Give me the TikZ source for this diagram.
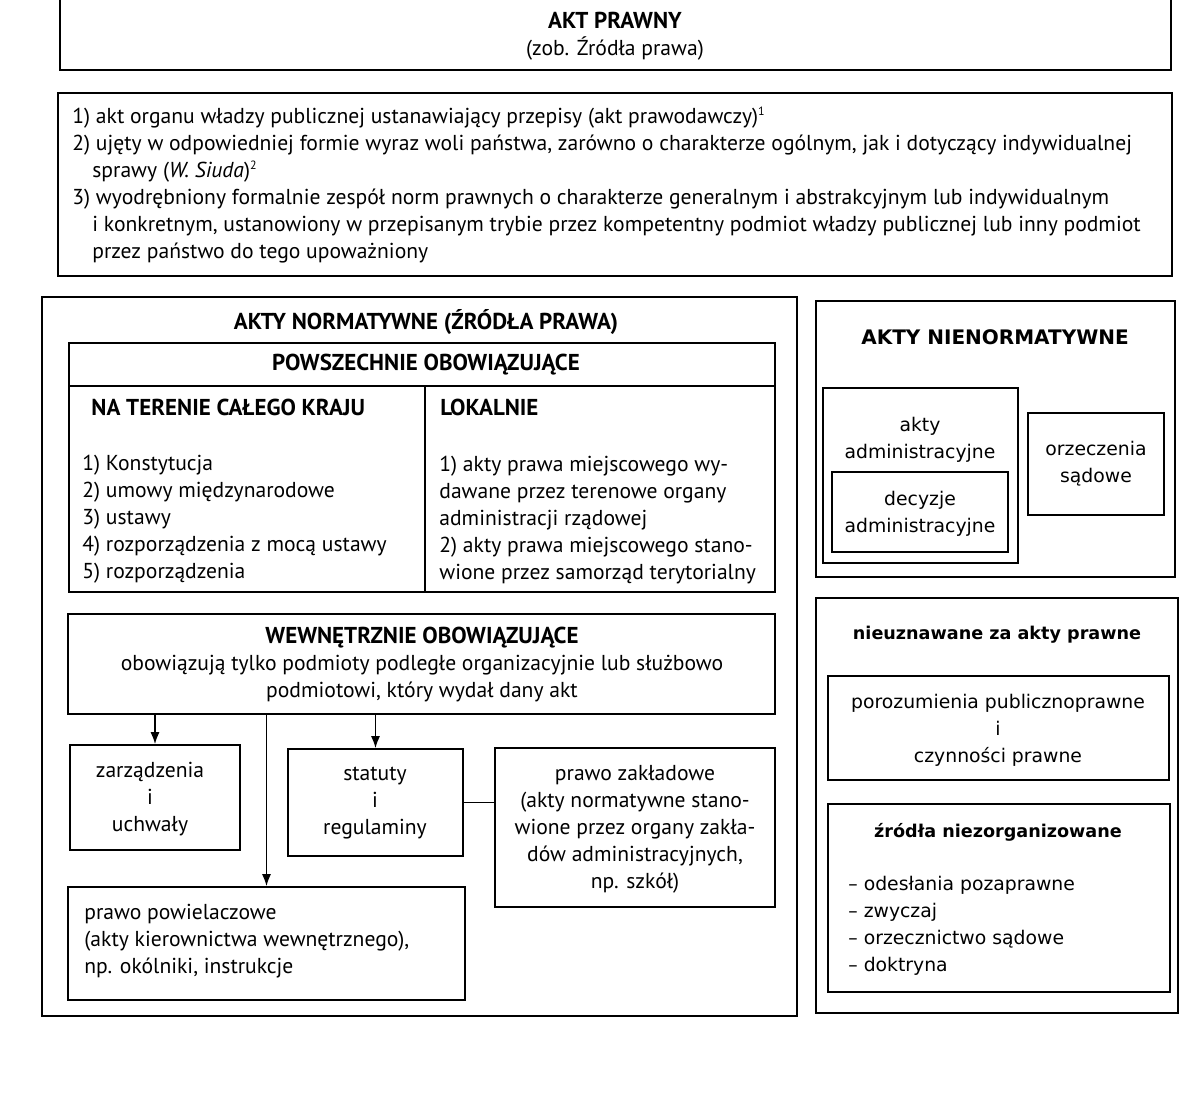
\documentclass[tikz,border=0pt]{standalone}
\usepackage{fontspec}
\setmainfont{PT Sans}
\newfontfamily\verd{DejaVu Sans}
\usetikzlibrary{arrows.meta,fit}

\newcommand{\hd}[1]{{\bfseries\fontsize{11.5}{13.5}\selectfont #1}}
\newcommand{\sups}[1]{\textsuperscript{\fontsize{6}{6}\selectfont #1}}

\tikzset{
  box/.style={draw, line width=0.8pt, inner sep=0pt},
  txt/.style={inner sep=0pt, align=center, font=\fontsize{10.8}{13.5}\selectfont},
  ltxt/.style={txt, align=left, anchor=north west},
  rtxt/.style={inner sep=0pt, align=center, font=\verd\fontsize{9.4}{13.5}\selectfont},
  arr/.style={-{Latex[length=6pt,width=4.5pt]}, line width=0.8pt}
}

\begin{document}
\begin{tikzpicture}[x=0.5pt, y=-0.5pt]
    \useasboundingbox (0,0) rectangle (1200,1105);

    % akt prawny
    \node[box, fit={(60,-5) (1171,70)}] (akt) {};
    \node[txt] (akttxt) at (615,36) {\hd{AKT PRAWNY}\\(zob. Źródła prawa)};

    % definicje
    \node[box, fit={(58,93) (1172,276)}] (def) {};
    \node[ltxt] (deftxt) at (72,107) {1) akt organu władzy publicznej ustanawiający przepisy (akt prawodawczy)\sups{1}\\
        2) ujęty w odpowiedniej formie wyraz woli państwa, zarówno o charakterze ogólnym, jak i dotyczący indywidualnej\\
        \hspace*{10pt}sprawy (\textit{W. Siuda})\sups{2}\\
        3) wyodrębniony formalnie zespół norm prawnych o charakterze generalnym i abstrakcyjnym lub indywidualnym\\
        \hspace*{10pt}i konkretnym, ustanowiony w przepisanym trybie przez kompetentny podmiot władzy publicznej lub inny podmiot\\
        \hspace*{10pt}przez państwo do tego upoważniony};

    % akty normatywne
    \node[box, fit={(42,297) (797,1016)}] (norm) {};
    \node[txt] (normtxt) at (426,322) {\hd{AKTY NORMATYWNE (ŹRÓDŁA PRAWA)}};

    \node[box, fit={(69,343) (775,386)}] (powsz) {};
    \node[txt] (powsztxt) at (426,365) {\hd{POWSZECHNIE OBOWIĄZUJĄCE}};
    \node[box, fit={(69,386) (425,592)}] (kraj) {};
    \node[box, fit={(425,386) (775,592)}] (lokal) {};
    \node[ltxt] (krajtxt) at (91,399) {\hd{NA TERENIE CAŁEGO KRAJU}};
    \node[ltxt] (lokaltxt) at (440,399) {\hd{LOKALNIE}};
    \node[ltxt] (krajlist) at (82,455) {1) Konstytucja\\2) umowy międzynarodowe\\3) ustawy\\4) rozporządzenia z mocą ustawy\\5) rozporządzenia};
    \node[ltxt] (lokallist) at (439,456) {1) akty prawa miejscowego wy-\\dawane przez terenowe organy\\administracji rządowej\\2) akty prawa miejscowego stano-\\wione przez samorząd terytorialny};

    \node[box, fit={(68,614) (775,714)}] (wew) {};
    \node[txt] (wewtxt) at (422,664) {\hd{WEWNĘTRZNIE OBOWIĄZUJĄCE}\\obowiązują tylko podmioty podległe organizacyjnie lub służbowo\\podmiotowi, który wydał dany akt};

    \node[box, fit={(70,745) (240,850)}] (zarz) {};
    \node[txt] (zarztxt) at (150,799) {zarządzenia\\i\\uchwały};
    \node[box, fit={(288,749) (463,856)}] (stat) {};
    \node[txt] (stattxt) at (375,803) {statuty\\i\\regulaminy};
    \node[box, fit={(495,748) (775,907)}] (zakl) {};
    \node[txt] (zakltxt) at (635,829) {prawo zakładowe\\(akty normatywne stano-\\wione przez organy zakła-\\dów administracyjnych,\\np. szkół)};
    \node[box, fit={(68,887) (465,1000)}] (powiel) {};
    \node[ltxt] (powieltxt) at (84,904) {prawo powielaczowe\\(akty kierownictwa wewnętrznego),\\np. okólniki, instrukcje};

    \draw[arr] (zarz.north |- wew.south) -- (zarz.north);
    \draw[arr] (stat.north |- wew.south) -- (stat.north);
    \draw[arr] (powiel.north |- wew.south) -- (powiel.north);
    \draw[line width=0.8pt] (stat.east) -- (stat.east -| zakl.west);

    % akty nienormatywne
    \node[box, fit={(816,301) (1175,577)}] (nienorm) {};
    \node[rtxt] (nienormtxt) at (995,337) {\bfseries\fontsize{10}{13.5}\selectfont AKTY NIENORMATYWNE};
    \node[box, fit={(823,388) (1018,563)}] (admin) {};
    \node[rtxt] (admintxt) at (920,440) {akty\\administracyjne};
    \node[box, fit={(832,472) (1008,552)}] (decyz) {};
    \node[rtxt] (decyztxt) at (920,514) {decyzje\\administracyjne};
    \node[box, fit={(1028,413) (1164,515)}] (orzecz) {};
    \node[rtxt] (orzecztxt) at (1096,464) {orzeczenia\\sądowe};

    % nieuznawane
    \node[box, fit={(816,598) (1178,1013)}] (nieuzn) {};
    \node[rtxt] (nieuzntxt) at (997,635) {\bfseries\fontsize{8.8}{13.5}\selectfont nieuznawane za akty prawne};
    \node[box, fit={(828,676) (1169,780)}] (poroz) {};
    \node[rtxt] (poroztxt) at (998,730) {porozumienia publicznoprawne\\i\\czynności prawne};
    \node[box, fit={(828,804) (1170,992)}] (zrodla) {};
    \node[rtxt] (zrodlatxt) at (998,832) {\bfseries\fontsize{8.8}{13.5}\selectfont źródła niezorganizowane};
    \node[rtxt, align=left, anchor=north west] (zrodlalist) at (848,876) {– odesłania pozaprawne\\– zwyczaj\\– orzecznictwo sądowe\\– doktryna};
\end{tikzpicture}
\end{document}
